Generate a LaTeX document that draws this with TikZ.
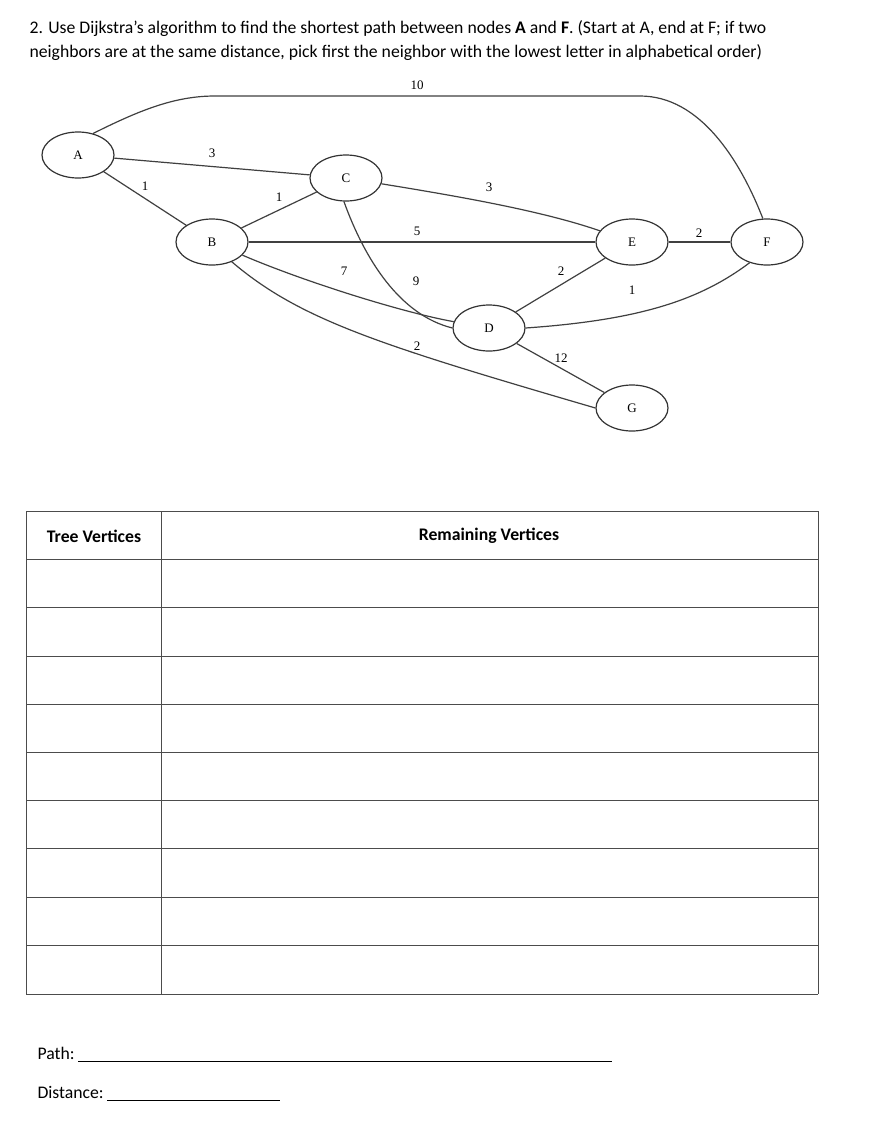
\documentclass[tikz,border=0pt]{standalone}
\usepackage{fontspec}
\usetikzlibrary{shapes.geometric}
\setmainfont{Carlito}
\newfontfamily\gfont{Liberation Serif}
\begin{document}
\begin{tikzpicture}[x=1pt,y=-1pt,
  vert/.style={draw, ellipse, line width=1.2pt, black!80, text=black, minimum width=72pt, minimum height=46pt, inner sep=0pt, font=\gfont\fontsize{13}{14}\selectfont},
  edge/.style={draw, line width=1.2pt, black!75},
  wl/.style={font=\gfont\fontsize{13}{14}\selectfont},
  grid/.style={draw, line width=0.8pt, black!70},
  txt/.style={font=\fontsize{17.7}{20}\selectfont}]
\useasboundingbox (0,0) rectangle (882,1138);
\fill[white] (0,0) rectangle (882,1138);
\node[anchor=base west, txt] (t1) at (26,33) {2. Use Dijkstra’s algorithm to find the shortest path between nodes \textbf{A} and \textbf{F}. (Start at A, end at F; if two};
\node[anchor=base west, txt] (t2) at (26,57) {neighbors are at the same distance, pick first the neighbor with the lowest letter in alphabetical order)};
% nodes
\node[vert] (A) at (78,155) {A};
\node[vert] (C) at (346,178) {C};
\node[vert] (B) at (212,242) {B};
\node[vert] (E) at (632,242) {E};
\node[vert] (F) at (767,242) {F};
\node[vert] (D) at (489,328) {D};
\node[vert] (G) at (632,408) {G};
% edges
\draw[edge] (A.55) .. controls (140,110) and (175,96) .. (215,96) -- (640,96) .. controls (700,96) and (740,160) .. (F.100);
\draw[edge] (A) -- (C);
\draw[edge] (A) -- (B);
\draw[edge] (B) -- (C);
\draw[edge] (C) .. controls (450,195) and (540,210) .. (E);
\draw[edge] (B) -- (E);
\draw[edge] (B) .. controls (300,280) and (400,312) .. (D);
\draw[edge] (C.-95) .. controls (365,260) and (400,315) .. (D.west);
\draw[edge] (B.-45) .. controls (300,320) and (380,345) .. (G.west);
\draw[edge] (D) -- (E);
\draw[edge] (D.east) .. controls (640,320) and (700,300) .. (F.-130);
\draw[edge] (D) -- (G);
\draw[edge] (E) -- (F);
% weights
\node[wl] (w1) at (417,85) {10};
\node[wl] (w2) at (212,153) {3};
\node[wl] (w3) at (145,186) {1};
\node[wl] (w4) at (279,197) {1};
\node[wl] (w5) at (489,187) {3};
\node[wl] (w6) at (417,231) {5};
\node[wl] (w7) at (344,271) {7};
\node[wl] (w8) at (416,281) {9};
\node[wl] (w9) at (417,346) {2};
\node[wl] (w10) at (561,271) {2};
\node[wl] (w11) at (632,290) {1};
\node[wl] (w12) at (561,358) {12};
\node[wl] (w13) at (699,233) {2};
% table
\foreach \y in {511,559,607,656,704,752,800,848,897,945,994} \draw[grid] (26,\y) -- (818,\y);
\draw[grid] (26,511) -- (26,994);
\draw[grid] (161,511) -- (161,994);
\draw[grid] (818,511) -- (818,994);
\node[txt, font=\bfseries\fontsize{17.7}{20}\selectfont] (h1) at (94,536) {Tree Vertices};
\node[txt, font=\bfseries\fontsize{17.7}{20}\selectfont] (h2) at (489,536) {Remaining Vertices};
% path & distance
\node[anchor=base west, txt] (p) at (34,1059) {Path:};
\draw[line width=0.8pt] (78,1061) -- (612,1061);
\node[anchor=base west, txt] (d) at (34,1098) {Distance:};
\draw[line width=0.8pt] (107,1100) -- (280,1100);
\end{tikzpicture}
\end{document}
